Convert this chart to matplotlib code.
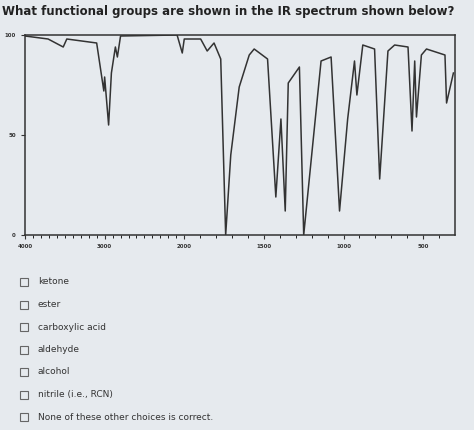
import numpy as np
import matplotlib
matplotlib.use('Agg')
import matplotlib.pyplot as plt
from matplotlib.patches import Rectangle

# spectrum trace (wavenumber cm-1, % transmittance)
wavenumber = [4000, 3710, 3520, 3475, 3100, 3010, 3000, 2950, 2915, 2865, 2840, 2800,
              2090, 2025, 2000, 1897, 1856, 1813, 1771, 1740, 1708, 1655, 1592, 1561,
              1477, 1425, 1393, 1366, 1347, 1277, 1250, 1141, 1078, 1025, 974, 931,
              916, 879, 805, 773, 721, 679, 595, 570, 553, 542, 511, 479, 363, 353, 310]
transmittance = [99.5, 98, 94, 98, 96, 72, 79, 55, 81, 94, 89, 99.5,
                 100, 91, 98, 98, 92, 96, 88, 0, 40, 74, 90, 93,
                 88, 19, 58, 12, 76, 84, 0, 87, 89, 12, 58, 87,
                 70, 95, 93, 28, 92, 95, 94, 52, 87, 59, 90, 93, 90, 66, 81]
xtick_vals = [4000, 3000, 2000, 1500, 1000, 500]
ytick_vals = [0, 50, 100]

question = "What functional groups are shown in the IR spectrum shown below?"
choices = ["ketone", "ester", "carboxylic acid", "aldehyde", "alcohol",
           "nitrile (i.e., RCN)", "None of these other choices is correct."]


# split wavenumber scale: half compression above 2000 cm-1 (increasing in w)
def fwd(w):
    w = np.asarray(w, dtype=float)
    return -np.where(w >= 2000, (4000 - w) / 1000, 2 + (2000 - w) / 500)


def inv(u):
    u = -np.asarray(u, dtype=float)
    return np.where(u <= 2, 4000 - 1000 * u, 2000 - 500 * (u - 2))


bg = '#e6eaee'
fig = plt.figure(figsize=(4.74, 4.30), dpi=100, facecolor=bg)
ax = fig.add_axes([25 / 474, 195 / 430, 430 / 474, 200 / 430], facecolor=bg)
ax.set_xscale('function', functions=(fwd, inv))
ax.plot(wavenumber, transmittance, color='#333333', lw=1.1)
ax.set_xlim(4000, 300)
ax.set_ylim(0, 100)
ax.set_xticks(xtick_vals)
ax.set_xticklabels([str(v) for v in xtick_vals], fontsize=4, fontweight='bold')
ax.set_yticks(ytick_vals)
ax.set_yticklabels([str(v) for v in ytick_vals], fontsize=4, fontweight='bold')
ax.set_xticks(np.arange(4000, 300, -100), minor=True)
ax.tick_params(length=3, width=0.8, colors='#333333')
ax.tick_params(which='minor', length=2)
for s in ax.spines.values():
    s.set_color('#333333')
    s.set_linewidth(1.1)

fig.text(2 / 474, 1 - 12 / 430, question, fontsize=8.5, color='#222222',
         va='center', ha='left', fontweight='bold')

y0 = 282
for i, c in enumerate(choices):
    y = y0 + i * 22.5
    fig.patches.append(Rectangle((20 / 474, 1 - (y + 4) / 430), 8 / 474, 8 / 430,
                                 transform=fig.transFigure, fill=False,
                                 ec='#666666', lw=0.8))
    fig.text(38 / 474, 1 - y / 430, c, fontsize=6.5, color='#333333', va='center')

fig.savefig('out.png', dpi=100, facecolor=bg)
